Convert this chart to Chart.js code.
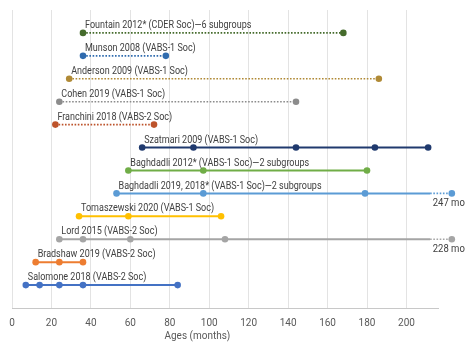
<!DOCTYPE html>
<html lang="en">
<head>
    <meta charset="UTF-8">
    <title>Ages covered by study</title>
    <script src="https://cdn.jsdelivr.net/npm/chart.js"></script>
    <style>
        body {
            margin: 0;
            padding: 0;
            background-color: #fff;
        }

        canvas {
            display: block;
        }
    </style>
</head>
<body>
    <canvas id="ageChart" width="474" height="351"></canvas>

    <script>
        // One row per study, top to bottom
        const studyLabels = [
            'Fountain 2012* (CDER Soc)\u20146 subgroups',
            'Munson 2008 (VABS-1 Soc)',
            'Anderson 2009 (VABS-1 Soc)',
            'Cohen 2019 (VABS-1 Soc)',
            'Franchini 2018 (VABS-2 Soc)',
            'Szatmari 2009 (VABS-1 Soc)',
            'Baghdadli 2012* (VABS-1 Soc)\u20142 subgroups',
            'Baghdadli 2019, 2018* (VABS-1 Soc)\u20142 subgroups',
            'Tomaszewski 2020 (VABS-1 Soc)',
            'Lord 2015 (VABS-2 Soc)',
            'Bradshaw 2019 (VABS-2 Soc)',
            'Salomone 2018 (VABS-2 Soc)'
        ];

        // Assessment ages in months
        const ageValues = [
            [36, 168],
            [36, 78],
            [29, 186],
            [24, 144],
            [22, 72],
            [66, 92, 144, 184, 211],
            [59, 97, 180],
            [53, 97, 179],
            [34, 59, 106],
            [24, 36, 60, 108],
            [12, 24, 36],
            [7, 14, 24, 36, 84]
        ];

        const lineColors = [
            '#456b2c', '#2f6bae', '#b08a36', '#8c8c8c', '#bd532b', '#203a6e',
            '#70ad47', '#5b9bd5', '#ffc000', '#a5a5a5', '#ed7d31', '#4472c4'
        ];

        const dottedRows = [true, true, true, true, true, false, false, false, false, false, false, false];

        // Rows whose last age is off the axis: drawn past the break with a label
        const overflowText = [null, null, null, null, null, null, null, '247 mo', null, '228 mo', null, null];
        const axisBreakAt = 212;
        const overflowAt = 223;

        const xTickStep = 20;
        const xMax = 216;
        const axisTitle = 'Ages (months)';

        const datasets = studyLabels.map((label, i) => {
            const row = i + 1;
            const points = ageValues[i].map(v => ({ x: v, y: row }));
            const radii = points.map(() => 3.3);
            if (overflowText[i]) {
                points.push({ x: axisBreakAt, y: row });
                points.push({ x: overflowAt, y: row });
                radii.push(0, 3.3);
            }
            const last = points.length - 1;
            return {
                label: label,
                data: points,
                borderColor: lineColors[i],
                backgroundColor: lineColors[i],
                pointBackgroundColor: lineColors[i],
                pointBorderWidth: 0,
                pointRadius: radii,
                borderWidth: dottedRows[i] ? 1.6 : 2,
                borderDash: dottedRows[i] ? [1.6, 1.6] : [],
                segment: {
                    borderDash: ctx => (overflowText[i] && ctx.p1DataIndex === last) ? [1.6, 1.6] : undefined,
                    borderWidth: ctx => (overflowText[i] && ctx.p1DataIndex === last) ? 1.6 : undefined
                },
                clip: false,
                tension: 0
            };
        });

        // draw text slightly condensed, like the narrow office font of the original
        function condensedText(ctx, text, x, y, squeeze) {
            ctx.save();
            ctx.translate(x, y);
            ctx.scale(squeeze, 1);
            ctx.fillText(text, 0, 0);
            ctx.restore();
        }

        // Study names above each line, overflow ages under the markers
        const rowLabels = {
            id: 'rowLabels',
            afterDatasetsDraw(chart) {
                const ctx = chart.ctx;
                const xs = chart.scales.x;
                const ys = chart.scales.y;
                const wholeCanvas = { left: 0, top: 0, right: chart.width, bottom: chart.height };

                // markers past the axis break are skipped by Chart.js (outside the area), draw them here
                chart.data.datasets.forEach((ds, i) => {
                    if (!overflowText[i]) return;
                    const meta = chart.getDatasetMeta(i);
                    meta.data[meta.data.length - 1].draw(ctx, wholeCanvas);
                });

                ctx.save();
                ctx.font = '10px Roboto, "Liberation Sans", sans-serif';
                ctx.fillStyle = '#404040';
                ctx.textBaseline = 'alphabetic';
                studyLabels.forEach((label, i) => {
                    const row = i + 1;
                    ctx.textAlign = 'left';
                    condensedText(ctx, label, xs.getPixelForValue(ageValues[i][0]) + 2, ys.getPixelForValue(row - 0.21), 0.9);
                    if (overflowText[i]) {
                        ctx.textAlign = 'center';
                        condensedText(ctx, overflowText[i], xs.getPixelForValue(overflowAt) - 3, ys.getPixelForValue(row + 0.57), 0.95);
                    }
                });
                ctx.textAlign = 'center';
                ctx.fillStyle = '#595959';
                ctx.font = '10.5px Roboto, "Liberation Sans", sans-serif';
                condensedText(ctx, axisTitle, xs.getPixelForValue(94), chart.height - 12, 0.95);
                ctx.restore();
            }
        };

        const ageCtx = document.getElementById('ageChart').getContext('2d');
        const ageChart = new Chart(ageCtx, {
            type: 'line',
            data: { datasets: datasets },
            plugins: [rowLabels],
            options: {
                responsive: false,
                animation: false,
                layout: {
                    padding: { top: 10, left: 12, right: 36, bottom: 23 }
                },
                plugins: {
                    legend: { display: false },
                    tooltip: { enabled: false }
                },
                scales: {
                    x: {
                        type: 'linear',
                        min: 0,
                        max: xMax,
                        afterFit(scale) {
                            scale.height = 20;
                        },
                        grid: {
                            color: '#e3e3e3',
                            drawTicks: false
                        },
                        border: {
                            color: '#c8c8c8'
                        },
                        ticks: {
                            stepSize: xTickStep,
                            includeBounds: false,
                            padding: 9,
                            color: '#595959',
                            font: { size: 10, family: 'Roboto, "Liberation Sans", sans-serif' }
                        }
                    },
                    y: {
                        type: 'linear',
                        min: 0,
                        max: 13,
                        reverse: true,
                        display: false
                    }
                }
            }
        });
    </script>
</body>
</html>
